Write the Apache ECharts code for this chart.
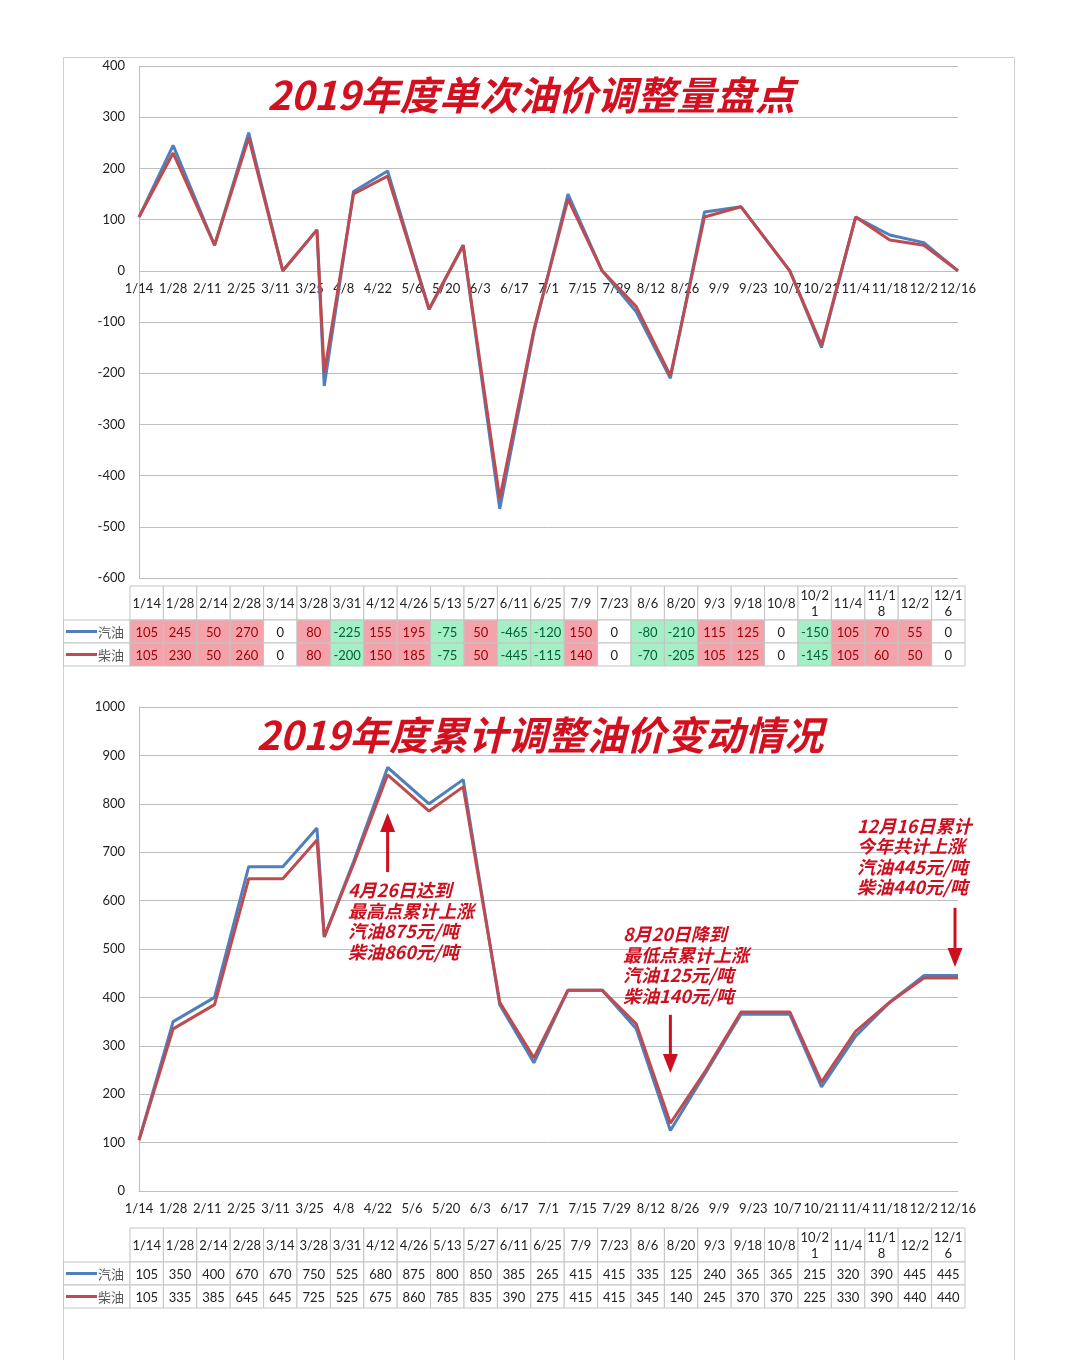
<!DOCTYPE html>
<html><head><meta charset="utf-8">
<script src="https://cdn.jsdelivr.net/npm/echarts@6/dist/echarts.min.js"></script>
<style>html,body{margin:0;padding:0;background:#fff}#c{width:1080px;height:1360px}</style>
</head><body><div id="c"></div>
<script>
// ---- data ----
const dates = ['1/14','1/28','2/14','2/28','3/14','3/28','3/31','4/12','4/26','5/13','5/27','6/11','6/25','7/9','7/23','8/6','8/20','9/3','9/18','10/8','10/21','11/4','11/18','12/2','12/16'];
const tickLabels = ['1/14','1/28','2/11','2/25','3/11','3/25','4/8','4/22','5/6','5/20','6/3','6/17','7/1','7/15','7/29','8/12','8/26','9/9','9/23','10/7','10/21','11/4','11/18','12/2','12/16'];
const gasChange = [105,245,50,270,0,80,-225,155,195,-75,50,-465,-120,150,0,-80,-210,115,125,0,-150,105,70,55,0];
const dieselChange = [105,230,50,260,0,80,-200,150,185,-75,50,-445,-115,140,0,-70,-205,105,125,0,-145,105,60,50,0];
const gasTotal = [105,350,400,670,670,750,525,680,875,800,850,385,265,415,415,335,125,240,365,365,215,320,390,445,445];
const dieselTotal = [105,335,385,645,645,725,525,675,860,785,835,390,275,415,415,345,140,245,370,370,225,330,390,440,440];
const seriesNames = ['汽油','柴油'];
const titles = ['2019年度单次油价调整量盘点','2019年度累计调整油价变动情况'];
const noteHigh = ['4月26日达到','最高点累计上涨','汽油875元/吨','柴油860元/吨'];
const noteLow = ['8月20日降到','最低点累计上涨','汽油125元/吨','柴油140元/吨'];
const noteEnd = ['12月16日累计','今年共计上涨','汽油445元/吨','柴油440元/吨'];

// ---- helpers ----
function dayOf(s){const p=s.split('/').map(Number);return (Date.UTC(2019,p[0]-1,p[1])-Date.UTC(2019,0,14))/86400000;}
const xs = dates.map(dayOf);
const pairs = arr => arr.map((v,i)=>[xs[i],v]);

const BLUE='#4f7fbd', RED='#be4b50', GRID='#bdbdbd', TXT='#222', NUMFONT='Lato, "Noto Sans CJK SC", sans-serif';
const CJK='"Noto Sans CJK SC", sans-serif';

const chart = echarts.init(document.getElementById('c'));
function xAxisCfg(gi, margin, showLine){
  return {type:'value',gridIndex:gi,min:0,max:336,interval:14,offset:0,
    axisLine:{show:showLine,onZero:false,lineStyle:{color:GRID,width:1}},
    axisTick:{show:false},splitLine:{show:false},
    axisLabel:{margin:margin,color:TXT,fontSize:13,fontFamily:NUMFONT,showMinLabel:true,showMaxLabel:true,
      formatter:v=>tickLabels[Math.round(v/14)]||''}};
}
function yAxisCfg(gi,min,max){
  return {type:'value',gridIndex:gi,min:min,max:max,interval:100,
    axisLine:{show:true,lineStyle:{color:GRID,width:1}},axisTick:{show:false},
    splitLine:{show:true,lineStyle:{color:GRID,width:1}},
    axisLabel:{margin:14,color:TXT,fontSize:13,fontFamily:NUMFONT,formatter:v=>String(v)}};
}
function lineSeries(name,data,color,xi,yi){
  return {type:'line',name:name,data:data,xAxisIndex:xi,yAxisIndex:yi,showSymbol:false,symbol:'none',
    lineStyle:{color:color,width:3},itemStyle:{color:color},animation:false,z:color===RED?4:3};
}
chart.setOption({
  animation:false,
  grid:[{left:139,right:122,top:66,height:512},{left:139,right:122,top:707,height:484}],
  xAxis:[xAxisCfg(0,12,false),xAxisCfg(1,11,true)],
  yAxis:[yAxisCfg(0,-600,400),yAxisCfg(1,0,1000)],
  series:[
    lineSeries(seriesNames[0],pairs(gasChange),BLUE,0,0),
    lineSeries(seriesNames[1],pairs(dieselChange),RED,0,0),
    lineSeries(seriesNames[0],pairs(gasTotal),BLUE,1,1),
    lineSeries(seriesNames[1],pairs(dieselTotal),RED,1,1)
  ]
});
// move top x-axis labels up to the zero line (Excel style)
const zeroY = chart.convertToPixel({yAxisIndex:0},0);
const bottomY = chart.convertToPixel({yAxisIndex:0},-600);
chart.setOption({xAxis:[{offset:zeroY-bottomY},{}]});

// ---- graphics: frame, titles, tables, annotations ----
const g = [];
g.push({type:'rect',z:-10,shape:{x:63.5,y:57.5,width:951,height:1400},style:{fill:'none',stroke:'#cfcfcf',lineWidth:1}});

function title(text,cx,cy,size){
  g.push({type:'text',z:20,x:cx,y:cy,style:{text:text,fill:'#d3101f',fontSize:size,fontWeight:'bold',fontStyle:'italic',fontFamily:CJK,align:'center',verticalAlign:'middle'}});
}
title(titles[0],531,95,39.5);
title(titles[1],540,735,39.5);

const POS={fill:'#f4a3ab',text:'#9c0006'}, NEG={fill:'#a5efc5',text:'#00613a'};
function wrapLabel(s){return s.length>4? s.slice(0,4)+'\n'+s.slice(4): s;}
function table(y0,hh,rh,rowsData,colored){
  const x0=130, cw=33.4, n=dates.length, BC='#c4c4c4';
  for(let i=0;i<n;i++){
    const x=x0+i*cw;
    g.push({type:'rect',z:10,shape:{x:x,y:y0,width:cw,height:hh},style:{fill:'#fff',stroke:BC,lineWidth:1}});
    g.push({type:'text',z:11,x:x+cw/2,y:y0+hh/2+1,style:{text:wrapLabel(dates[i]),fill:TXT,fontSize:13,lineHeight:16,fontFamily:NUMFONT,align:'center',verticalAlign:'middle'}});
  }
  rowsData.forEach((vals,r)=>{
    const y=y0+hh+r*rh;
    const col = r===0?BLUE:RED;
    g.push({type:'rect',z:10,shape:{x:63.5,y:y,width:x0-63.5,height:rh},style:{fill:'#fff',stroke:BC,lineWidth:1}});
    g.push({type:'line',z:11,shape:{x1:66,y1:y+rh/2,x2:97,y2:y+rh/2},style:{stroke:col,lineWidth:3}});
    g.push({type:'text',z:11,x:98,y:y+rh/2+1,style:{text:seriesNames[r],fill:'#555',fontSize:13,fontFamily:CJK,align:'left',verticalAlign:'middle'}});
    vals.forEach((v,i)=>{
      const x=x0+i*cw;
      let fill='#fff', tc=TXT;
      if(colored && v>0){fill=POS.fill;tc=POS.text;}
      if(colored && v<0){fill=NEG.fill;tc=NEG.text;}
      g.push({type:'rect',z:10,shape:{x:x,y:y,width:cw,height:rh},style:{fill:fill,stroke:BC,lineWidth:1}});
      g.push({type:'text',z:11,x:x+cw/2,y:y+rh/2+1,style:{text:String(v),fill:tc,fontSize:13,fontFamily:NUMFONT,align:'center',verticalAlign:'middle'}});
    });
  });
}
table(586,34,23,[gasChange,dieselChange],true);
table(1228,34,23,[gasTotal,dieselTotal],false);

const NOTE='#cc1020';
function note(lines,x,y0,lh){
  lines.forEach((t,i)=>g.push({type:'text',z:20,x:x,y:y0+i*lh,style:{text:t,fill:NOTE,fontSize:18,fontWeight:'bold',fontStyle:'italic',fontFamily:CJK,align:'left',verticalAlign:'middle'}}));
}
function arrow(px,yFrom,yTip){
  const dir = yTip<yFrom?1:-1; const head=19, hw=7.5;
  g.push({type:'line',z:20,shape:{x1:px,y1:yFrom,x2:px,y2:yTip+dir*head},style:{stroke:NOTE,lineWidth:3}});
  g.push({type:'polygon',z:20,shape:{points:[[px,yTip],[px-hw,yTip+dir*head],[px+hw,yTip+dir*head]]},style:{fill:NOTE}});
}
const px = (d,v)=>chart.convertToPixel({gridIndex:1},[d,v]);
let a=px(dayOf('4/26'),659), b=px(dayOf('4/26'),781); arrow(a[0],a[1],b[1]);
a=px(dayOf('8/20'),364); b=px(dayOf('8/20'),244); arrow(a[0],a[1],b[1]);
a=px(dayOf('12/16'),585); b=px(dayOf('12/16'),463); arrow(a[0]-3,a[1],b[1]);

note(noteHigh,348,890,20.7);
note(noteLow,623,934,20.7);
note(noteEnd,857,826,20.5);

chart.setOption({graphic:{elements:g}});
</script></body></html>
